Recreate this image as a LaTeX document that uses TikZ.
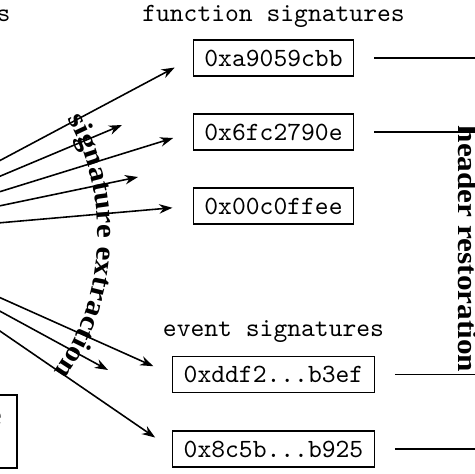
\documentclass[tikz,border=0pt]{standalone}
\usepackage{fontspec}
\newfontfamily\lblfam{Liberation Serif}[FakeStretch=1.12]
\usetikzlibrary{arrows.meta,decorations.text}
\newcommand\lblfont{\lblfam\bfseries\fontsize{10.6}{12}\selectfont}
\begin{document}
\begin{tikzpicture}[x=0.38pt,y=-0.38pt,
		sig/.style={draw,semithick,font=\ttfamily,inner xsep=4.2pt,minimum height=13.6pt},
		arr/.style={semithick,-{Stealth[length=5pt,width=3.6pt]}}]
	\useasboundingbox (0,0) rectangle (474,474);
	\coordinate (src) at (-140,235);
	\coordinate (rr) at (490,0);
	% left column (cut off)
	\node[font=\ttfamily,anchor=east,inner sep=0pt] (lhead) at (11,16) {s};
	\node[draw,semithick,anchor=east,font=\lblfont,inner xsep=6pt,text height=8pt,text depth=13pt] (lbox) at (18,431.5) {e};
	% signatures
	\node[font=\ttfamily] (fhead) at (273.5,16) {function signatures};
	\node[sig] (f1) at (273.5,58) {0xa9059cbb};
	\node[sig] (f2) at (273.5,132) {0x6fc2790e};
	\node[sig] (f3) at (273.5,206) {0x00c0ffee};
	\node[font=\ttfamily] (ehead) at (273.5,332) {event signatures};
	\node[sig] (e1) at (273.5,374.5) {0xddf2...b3ef};
	\node[sig] (e2) at (273.5,449) {0x8c5b...b925};
	% extraction
	\coordinate (u1) at (122,125);
	\coordinate (u2) at (138,177);
	\coordinate (u3) at (108,370);
	\foreach \t in {f1,f2,f3,e1,e2}
		\draw[arr,shorten >=7.7pt] (src) -- (\t.west);
	\foreach \t in {u1,u2,u3}
		\draw[arr] (src) -- (\t);
	\path[decorate,decoration={text along path,text align=center,
		text={|\lblfont|signature extraction}}]
		(src) ++(-30:238) arc[start angle=-30,end angle=36,radius=238];
	% restoration
	\foreach \b in {f1,f2,e1,e2}
		\draw[semithick,shorten <=7.5pt] (\b.east) -- (\b.east -| rr);
	\node[font=\lblfont,rotate=-90,anchor=base] (hrest) at (458,249) {header restoration};
\end{tikzpicture}
\end{document}
